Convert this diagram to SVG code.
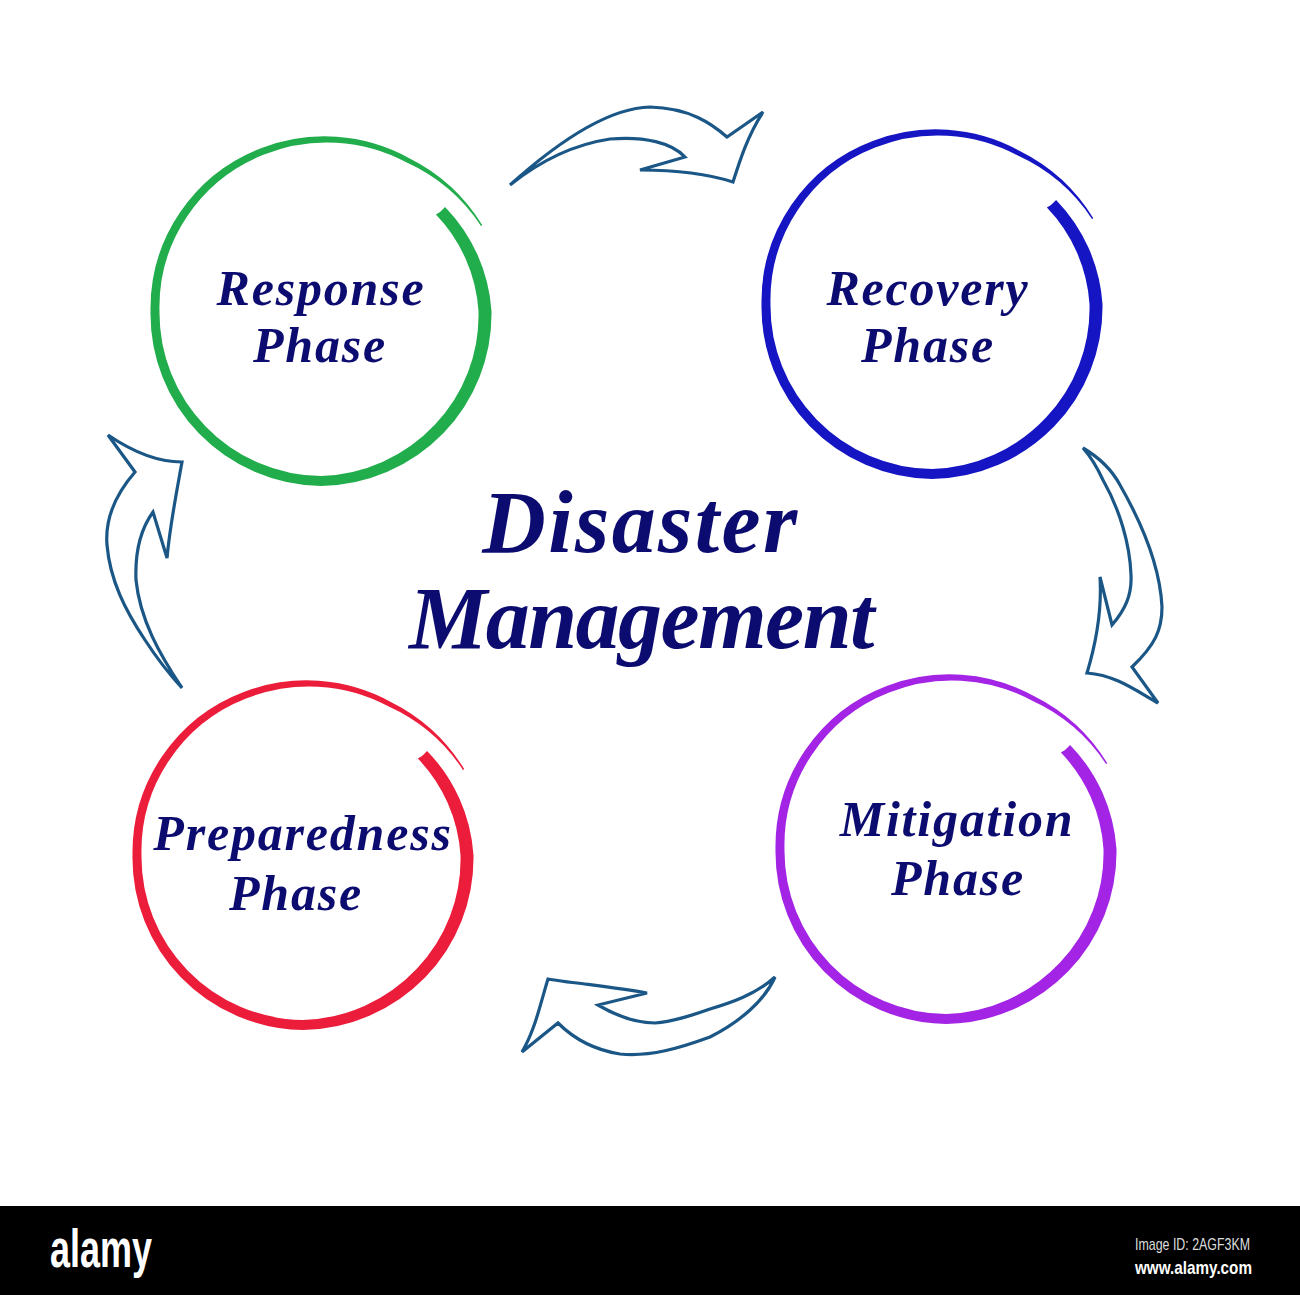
<svg xmlns="http://www.w3.org/2000/svg" xmlns:xlink="http://www.w3.org/1999/xlink" width="1300" height="1295" viewBox="0 0 1300 1295">
<style>
.lbl{font-family:"Liberation Serif","Times New Roman",serif;font-style:italic;font-weight:bold;fill:#0c0c70;text-anchor:middle}
.ph{font-size:50px;letter-spacing:1.8px}
.title{font-size:88px}
.arr{fill:#ffffff;stroke:#1b5786;stroke-width:3.2;stroke-linejoin:miter}
</style>
<defs>
<path id="ring" stroke="none" d="M124.1,-104.1 A166,166 0 0 1 170.5,0 A172,172 0 0 1 122.3,122.3 A174,174 0 0 1 0,175 A174,174 0 0 1 -122.2,122.2 A171.6,171.6 0 0 1 -170.5,0 A171,171 0 0 1 -140.9,-98.7 A172.7,172.7 0 0 1 -59.3,-163 A175,175 0 0 1 88.3,-152.8 A179.6,179.6 0 0 1 161.3,-85.8 L160,-85.1 A176.4,176.4 0 0 0 85.8,-148.5 A169,169 0 0 0 -56.9,-156.5 A165,165 0 0 0 -134.3,-94.1 A162.7,162.7 0 0 0 -161.5,0 A162.4,162.4 0 0 0 -115.4,115.4 A164,164 0 0 0 0,165 A163,163 0 0 0 113.8,113.8 A159,159 0 0 0 157.5,0 A153.7,153.7 0 0 0 114.9,-96.4 L119,-99 Z"/>
</defs>
<rect width="1300" height="1295" fill="#ffffff"/>

<g id="connectors">
<path class="arr" d="M510,185 C560,140 610,108 650,107 C690,108 712,124 727,137 L763,112 C748,135 740,160 733,182 C705,173 675,170 640,170 L685,157 C672,143 645,136 610,139 C570,145 535,165 510,185 Z"/>
<path class="arr" d="M1083,448 C1100,458 1112,470 1120,485 C1140,520 1160,565 1162,607 C1162,630 1155,645 1132,667 L1158,703 C1135,690 1115,675 1087,673 C1097,640 1102,610 1100,577 L1112,625 C1125,610 1132,595 1131,575 C1130,545 1120,510 1103,480 C1097,467 1090,456 1083,448 Z"/>
<path class="arr" d="M775,977 C755,995 730,1003 710,1009 C690,1016 672,1022 655,1023 C635,1023 615,1015 598,1005 L647,993 C625,989 600,986 577,983 C565,982 555,980 548,979 C540,1005 535,1030 522,1052 L558,1023 C575,1040 595,1050 620,1054 C650,1057 680,1048 710,1037 C740,1022 765,1000 775,977 Z"/>
<path class="arr" d="M182,688 C170,675 160,663 145,640 C125,610 110,580 107,545 C105,520 115,495 135,472 L108,435 C130,450 155,462 182,462 C176,495 170,525 167,558 L153,512 C140,530 135,555 136,580 C140,620 160,655 182,688 Z"/>
</g>

<g id="response">
<use xlink:href="#ring" href="#ring" fill="#21ad4b" transform="translate(321,311)"/>
<text class="lbl ph" x="321" y="305">Response</text>
<text class="lbl ph" x="320" y="362">Phase</text>
</g>
<g id="recovery">
<use xlink:href="#ring" href="#ring" fill="#1515c4" transform="translate(932,304)"/>
<text class="lbl ph" x="928" y="305">Recovery</text>
<text class="lbl ph" x="928" y="362">Phase</text>
</g>
<g id="mitigation">
<use xlink:href="#ring" href="#ring" fill="#a324e4" transform="translate(946,849)"/>
<text class="lbl ph" x="957" y="836">Mitigation</text>
<text class="lbl ph" x="958" y="895">Phase</text>
</g>
<g id="preparedness">
<use xlink:href="#ring" href="#ring" fill="#ec1d3b" transform="translate(303,855)"/>
<text class="lbl ph" x="303" y="850">Preparedness</text>
<text class="lbl ph" x="296" y="910">Phase</text>
</g>
<g id="title">
<text class="lbl title" x="641" y="552" letter-spacing="2.4">Disaster</text>
<text class="lbl title" x="641" y="648" letter-spacing="-1.5">Management</text>
</g>

<g id="banner">
<rect x="0" y="1206" width="1300" height="89" fill="#000000"/>
<text x="50" y="1267" font-family="Liberation Sans, Arial, sans-serif" font-weight="bold" font-size="54" fill="#ffffff" textLength="102" lengthAdjust="spacingAndGlyphs">alamy</text>
<text x="1135" y="1250" font-family="Liberation Sans, Arial, sans-serif" font-size="17" fill="#dddddd" textLength="115" lengthAdjust="spacingAndGlyphs">Image ID: 2AGF3KM</text>
<text x="1135" y="1274" font-family="Liberation Sans, Arial, sans-serif" font-weight="bold" font-size="19" fill="#ffffff" textLength="117" lengthAdjust="spacingAndGlyphs">www.alamy.com</text>
</g>
</svg>
